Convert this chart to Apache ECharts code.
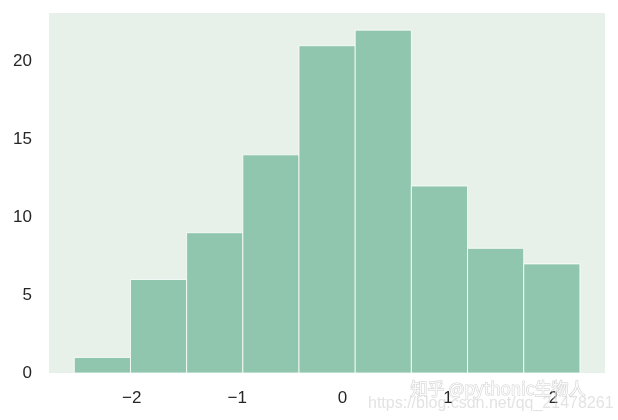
<!DOCTYPE html>
<html>
<head>
<meta charset="utf-8">
<script src="https://cdn.jsdelivr.net/npm/echarts@6/dist/echarts.min.js"></script>
<style>
  html, body { margin: 0; padding: 0; background: #fff; }
  #main { width: 618px; height: 420px; }
</style>
</head>
<body>
<div id="main"></div>
<script>
// histogram bins
var binEdges = [-2.545, -2.012, -1.479, -0.946, -0.413, 0.120, 0.653, 1.186, 1.719, 2.252];
var counts = [1, 6, 9, 14, 21, 22, 12, 8, 7];
var xTicks = [-2, -1, 0, 1, 2];
var yTicks = [0, 5, 10, 15, 20];

var chartDom = document.getElementById('main');
var myChart = echarts.init(chartDom);
var option;

var bins = counts.map(function (c, i) {
  return [binEdges[i], binEdges[i + 1], c];
});

var labelStyle = {
  color: '#262626',
  fontSize: 17,
  fontFamily: 'Liberation Sans, Arial, sans-serif'
};

option = {
  backgroundColor: '#fff',
  grid: {
    left: 49,
    right: 13,
    top: 13,
    bottom: 47,
    show: true,
    backgroundColor: '#e8f1e9',
    borderWidth: 0
  },
  xAxis: {
    type: 'value',
    min: -2.785,
    max: 2.49,
    splitNumber: 5,
    axisLine: { show: false },
    axisTick: { show: false },
    splitLine: { show: false },
    axisLabel: Object.assign({
      margin: 17,
      showMinLabel: false,
      showMaxLabel: false,
      formatter: function (v) {
        if (xTicks.indexOf(v) < 0) return '';
        return v < 0 ? '\u2212' + Math.abs(v) : String(v);
      }
    }, labelStyle)
  },
  yAxis: {
    type: 'value',
    min: 0,
    max: 23.1,
    interval: 5,
    axisLine: { show: false },
    axisTick: { show: false },
    splitLine: { show: false },
    axisLabel: Object.assign({
      margin: 17,
      showMaxLabel: false,
      formatter: function (v) {
        return yTicks.indexOf(v) < 0 ? '' : String(v);
      }
    }, labelStyle)
  },
  series: [{
    type: 'custom',
    data: bins,
    renderItem: function (params, api) {
      var p0 = api.coord([api.value(0), api.value(2)]);
      var p1 = api.coord([api.value(1), 0]);
      return {
        type: 'rect',
        shape: { x: p0[0], y: p0[1], width: p1[0] - p0[0], height: p1[1] - p0[1] },
        style: { fill: '#8fc6ad', stroke: '#ffffff', lineWidth: 0.8 }
      };
    }
  }],
  graphic: [
    {
      type: 'text',
      left: 368,
      top: 396,
      z: 10,
      style: {
        text: 'https://blog.csdn.net/qq_21478261',
        fill: 'rgba(200,200,200,0.5)',
        fontSize: 16,
        fontFamily: 'Liberation Sans, Arial, sans-serif'
      }
    },
    {
      type: 'text',
      left: 410,
      top: 380,
      z: 11,
      style: {
        text: '知乎 @pythonic生物人',
        fill: 'rgba(255,255,255,0.85)',
        stroke: 'rgba(150,150,150,0.45)',
        lineWidth: 1,
        fontSize: 17,
        fontFamily: 'Noto Sans CJK SC, sans-serif'
      }
    }
  ]
};

option && myChart.setOption(option);
window.addEventListener('resize', function () {
  myChart.resize();
});
</script>
</body>
</html>
